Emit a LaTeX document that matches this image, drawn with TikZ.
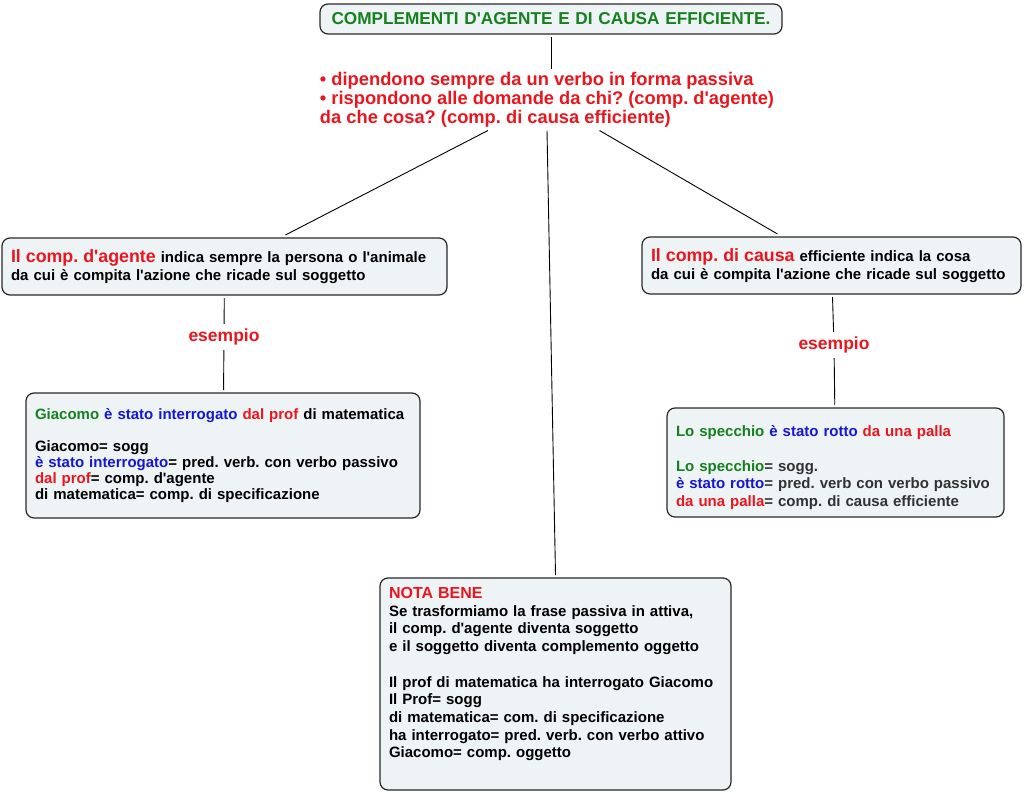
\documentclass[tikz,border=0pt]{standalone}
\usepackage{fontspec}
\setmainfont{Liberation Sans}[Ligatures=TeXOff]
\usetikzlibrary{positioning}

\definecolor{cgreen}{RGB}{22,128,30}
\definecolor{cred}{RGB}{232,22,30}
\definecolor{cblue}{RGB}{22,22,210}
\definecolor{cdark}{RGB}{50,50,50}
\definecolor{boxfill}{RGB}{238,243,245}
\definecolor{cborder}{RGB}{40,40,40}

\newcommand{\rosso}[1]{\textcolor{cred}{#1}}
\newcommand{\verde}[1]{\textcolor{cgreen}{#1}}
\newcommand{\blu}[1]{\textcolor{cblue}{#1}}
\frenchspacing

\tikzset{
  box/.style={draw=cborder, line width=1.2pt, fill=boxfill, rounded corners=8pt,
    align=left, inner xsep=9pt, inner ysep=0pt, outer sep=3pt,
    font=\bfseries\fontsize{15}{16}\selectfont},
  esempio/.style={text=cred, inner sep=2pt, outer sep=3pt,
    font=\bfseries\fontsize{17.5}{18}\selectfont},
  link/.style={draw=black, line width=0.9pt}
}

\begin{document}
\begin{tikzpicture}[x=1pt,y=-1pt]
    \useasboundingbox (0,0) rectangle (1024,794);
    % titolo e regole
    \node[box, align=center, inner xsep=5pt, text width=452pt, minimum height=30pt, text=cgreen,
      font=\bfseries\fontsize{17.2}{18}\selectfont] (titolo) at (551,19)
      {COMPLEMENTI D'AGENTE E DI CAUSA EFFICIENTE.};
    \node[align=left, text=cred, inner sep=0pt, outer sep=3pt,
      font=\bfseries\fontsize{18.3}{19}\selectfont] (regole) at (547,100)
      {• dipendono sempre da un verbo in forma passiva\\
       • rispondono alle domande da chi? (comp. d'agente)\\
       da che cosa? (comp. di causa efficiente)};
    % i due complementi
    \node[box, text width=427pt, minimum height=57pt,
      font=\bfseries\fontsize{15}{18}\selectfont] (agente) at (224.5,266.5)
      {{\fontsize{17.8}{18}\selectfont\rosso{Il comp. d'agente}} indica sempre la persona o l'animale\\
       da cui è compita l'azione che ricade sul soggetto};
    \node[box, text width=361pt, minimum height=57pt,
      font=\bfseries\fontsize{15}{18}\selectfont] (causa) at (831.5,265.5)
      {{\fontsize{17.8}{18}\selectfont\rosso{Il comp. di causa}} efficiente indica la cosa\\
       da cui è compita l'azione che ricade sul soggetto};
    \node[esempio] (es1) at (224,337) {esempio};
    \node[esempio] (es2) at (834,345) {esempio};
    % esempi
    \node[box, text width=376pt, minimum height=125pt] (esA) at (223,455.5)
      {\verde{Giacomo} \blu{è stato interrogato} \rosso{dal prof} di matematica\\
       \mbox{}\\
       Giacomo= sogg\\
       \blu{è stato interrogato}= pred. verb. con verbo passivo\\
       \rosso{dal prof}= comp. d'agente\\
       di matematica= comp. di specificazione};
    \node[box, text width=319pt, minimum height=109pt, text=cdark,
      font=\bfseries\fontsize{15}{17.5}\selectfont] (esB) at (835.5,462.5)
      {\verde{Lo specchio} \blu{è stato rotto} \rosso{da una palla}\\
       \mbox{}\\
       \verde{Lo specchio}= sogg.\\
       \blu{è stato rotto}= pred. verb con verbo passivo\\
       \rosso{da una palla}= comp. di causa efficiente\\[-24pt]
       \mbox{}};
    \node[box, text width=333pt, minimum height=212pt,
      font=\bfseries\fontsize{15}{17.7}\selectfont] (nota) at (555.5,684)
      {{\fontsize{16}{17.7}\selectfont\rosso{NOTA BENE}}\\
       Se trasformiamo la frase passiva in attiva,\\
       il comp. d'agente diventa soggetto\\
       e il soggetto diventa complemento oggetto\\
       \mbox{}\\
       Il prof di matematica ha interrogato Giacomo\\
       Il Prof= sogg\\
       di matematica= com. di specificazione\\
       ha interrogato= pred. verb. con verbo attivo\\
       Giacomo= comp. oggetto\\[5pt]
       \mbox{}};
    % collegamenti
    \draw[link] (titolo.south) -- (titolo.south |- regole.north);
    \draw[link] (regole) -- (agente);
    \draw[link] (regole) -- (causa);
    \draw[link] (regole.south) -- (nota.north);
    \draw[link] (agente) -- (es1);
    \draw[link] (es1) -- (esA);
    \draw[link] (causa) -- (es2);
    \draw[link] (es2) -- (esB);
  \end{tikzpicture}
\end{document}
